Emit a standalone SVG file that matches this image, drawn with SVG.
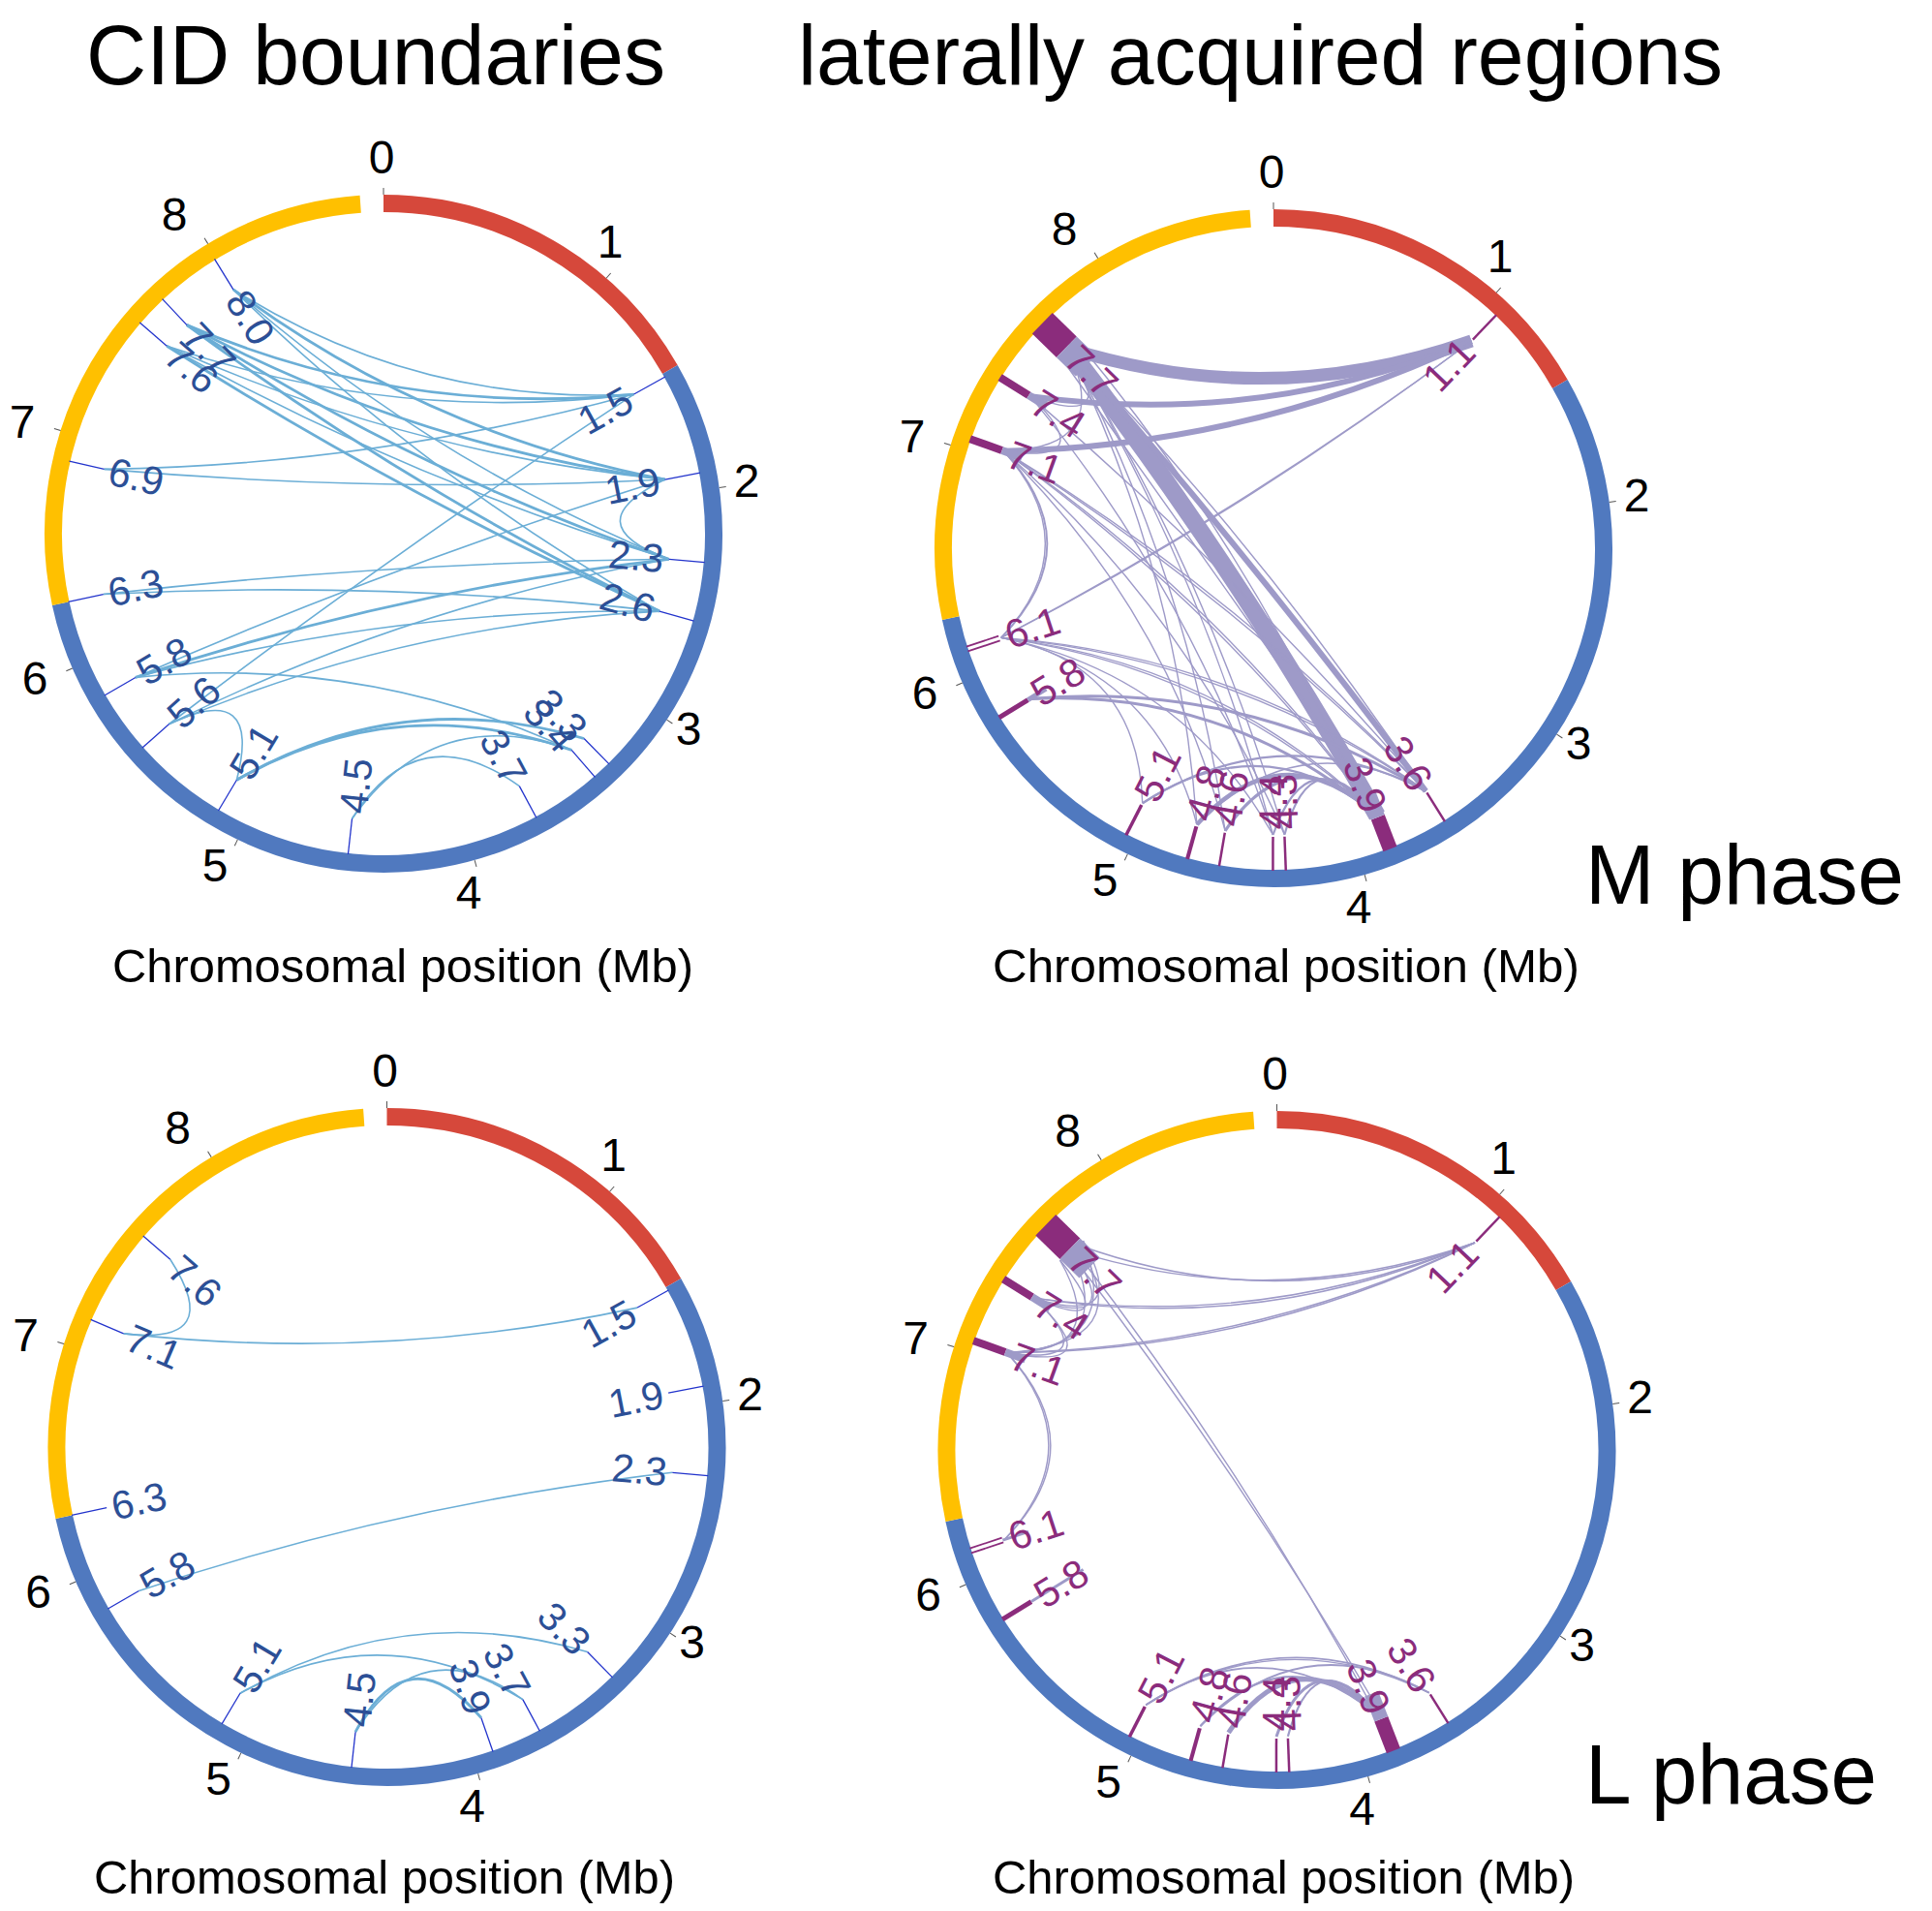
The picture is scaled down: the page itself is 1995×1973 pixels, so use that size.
<svg xmlns="http://www.w3.org/2000/svg" xmlns:xlink="http://www.w3.org/1999/xlink" width="1995" height="1973" viewBox="0 0 1995 1973">
<style>
text{font-family:"Liberation Sans",Arial,sans-serif}
.rr{fill:none;stroke:#d6483b;stroke-width:18}
.rb{fill:none;stroke:#5079bf;stroke-width:18}
.ry{fill:none;stroke:#ffc000;stroke-width:18}
.tk line{stroke:#555;stroke-width:1}
.num{font-size:48px;text-anchor:middle;fill:#000}
.cid{fill:none;stroke:#6baed6;stroke-width:1.6}
.cid .w2{stroke-width:2.8}
.lar{fill:none;stroke:#9e9ac8;stroke-width:1.4}
.cidr line{stroke:#2233cc;stroke-width:1.3}
.larr line{stroke:#8b2c7c}
.stub line{stroke:#9e9ac8}
.cl{fill:#2c4f96;font-size:41px;text-anchor:middle}
.ll{fill:#8b2c7c;font-size:41px;text-anchor:middle}
.ax{font-size:49px}
.big{font-size:87px}
</style>
<defs>
<g id="base">
<path class="rr" d="M0,-341A341,341 0 0 1 295.9,-169.5"/>
<path class="rb" d="M295.9,-169.5A341,341 0 1 1 -333.3,72.1"/>
<path class="ry" d="M-333.3,72.1A341,341 0 0 1 -23.8,-340.2"/>
<g class="tk">
<line y1="-350" y2="-357"/>
<line y1="-350" y2="-357" transform="rotate(41.1)"/>
<line y1="-350" y2="-357" transform="rotate(82.2)"/>
<line y1="-350" y2="-357" transform="rotate(123.3)"/>
<line y1="-350" y2="-357" transform="rotate(164.4)"/>
<line y1="-350" y2="-357" transform="rotate(205.5)"/>
<line y1="-350" y2="-357" transform="rotate(246.6)"/>
<line y1="-350" y2="-357" transform="rotate(287.7)"/>
<line y1="-350" y2="-357" transform="rotate(328.8)"/>
</g>
<g class="num">
<text x="-2" y="-389" dy=".36em">0</text>
<text x="234" y="-302" dy=".36em">1</text>
<text x="375" y="-55" dy=".36em">2</text>
<text x="315" y="201" dy=".36em">3</text>
<text x="88" y="370" dy=".36em">4</text>
<text x="-174" y="342" dy=".36em">5</text>
<text x="-360" y="149" dy=".36em">6</text>
<text x="-373" y="-116" dy=".36em">7</text>
<text x="-216" y="-330" dy=".36em">8</text>
</g>
</g>
</defs>
<rect width="1995" height="1973" fill="#fff"/>

<g id="titles">
<text class="big" x="89" y="87" textLength="598" lengthAdjust="spacingAndGlyphs">CID boundaries</text>
<text class="big" x="824" y="87" textLength="955" lengthAdjust="spacingAndGlyphs">laterally acquired regions</text>
<text class="big" x="1637" y="933" textLength="329" lengthAdjust="spacingAndGlyphs">M phase</text>
<text class="big" x="1637" y="1862" textLength="301" lengthAdjust="spacingAndGlyphs">L phase</text>
<text class="ax" x="116" y="1014" textLength="600" lengthAdjust="spacingAndGlyphs">Chromosomal position (Mb)</text>
<text class="ax" x="1025" y="1014" textLength="606" lengthAdjust="spacingAndGlyphs">Chromosomal position (Mb)</text>
<text class="ax" x="97" y="1955" textLength="600" lengthAdjust="spacingAndGlyphs">Chromosomal position (Mb)</text>
<text class="ax" x="1025" y="1955" textLength="601" lengthAdjust="spacingAndGlyphs">Chromosomal position (Mb)</text>
</g>

<!-- CID boundaries, M phase -->
<g id="cid-m" transform="translate(396,551)">
<use xlink:href="#base"/>
<g id="cid-m-links" class="cid">
<path d="M-155.1,-252.1Q34.7,-132.7 258.6,-143.9"/>
<path class="w2" d="M-155.1,-252.1Q45.4,-103.2 290.7,-56"/>
<path d="M-155.1,-252.1Q46.8,-75.6 294.8,26.3"/>
<path d="M-155.1,-252.1Q43.5,-57.6 285,80.1"/>
<path class="w2" d="M-203,-215.4Q18.6,-120.4 258.6,-143.9"/>
<path class="w2" d="M-203,-215.4Q29.4,-90.9 290.7,-56"/>
<path class="w2" d="M-203,-215.4Q30.8,-63.3 294.8,26.3"/>
<path class="w2" d="M-203,-215.4Q27.5,-45.3 285,80.1"/>
<path d="M-223.7,-193.8Q11.7,-113.1 258.6,-143.9"/>
<path d="M-223.7,-193.8Q22.4,-83.7 290.7,-56"/>
<path d="M-223.7,-193.8Q23.8,-56.1 294.8,26.3"/>
<path class="w2" d="M-223.7,-193.8Q20.5,-38.1 285,80.1"/>
<path d="M-288.4,-66.6Q-10,-70.5 258.6,-143.9"/>
<path d="M-288.4,-66.6Q0.8,-41.1 290.7,-56"/>
<path d="M-289.3,62.5Q1.8,29.7 294.8,26.3"/>
<path d="M-289.3,62.5Q-1.4,47.8 285,80.1"/>
<path class="w2" d="M-256.1,148.4Q13,58.5 294.8,26.3"/>
<path d="M-256.1,148.4Q11.6,31 290.7,-56"/>
<path d="M-256.1,148.4Q9.7,76.5 285,80.1"/>
<path d="M-256.1,148.4Q-20.7,124.6 194.2,223.4"/>
<path d="M-221.3,196.5Q12.5,17.6 258.6,-143.9"/>
<path d="M-221.3,196.5Q24.6,74.6 294.8,26.3"/>
<path d="M-221.3,196.5Q21.3,92.7 285,80.1"/>
<path d="M-221.3,196.5Q-124.9,151 -151.6,254.3"/>
<path class="w2" d="M-151.6,254.3Q18.6,156 207.1,211.5"/>
<path class="w2" d="M-151.6,254.3Q14.3,160 194.2,223.4"/>
<path d="M-32.5,294.2Q54.2,173.4 194.2,223.4"/>
<path d="M-32.5,294.2Q36.1,185.9 140.3,260.6"/>
<path d="M290.7,-56Q196.1,-9.9 294.8,26.3"/>
</g>
<g class="cidr">
<line y1="-333" y2="-296" transform="rotate(60.9)"/>
<line y1="-333" y2="-296" transform="rotate(79.1)"/>
<line y1="-333" y2="-296" transform="rotate(95.1)"/>
<line y1="-333" y2="-296" transform="rotate(105.7)"/>
<line y1="-333" y2="-296" transform="rotate(135.6)"/>
<line y1="-333" y2="-296" transform="rotate(139)"/>
<line y1="-333" y2="-296" transform="rotate(151.7)"/>
<line y1="-333" y2="-296" transform="rotate(186.3)"/>
<line y1="-333" y2="-296" transform="rotate(210.8)"/>
<line y1="-333" y2="-296" transform="rotate(228.4)"/>
<line y1="-333" y2="-296" transform="rotate(239.9)"/>
<line y1="-333" y2="-296" transform="rotate(257.8)"/>
<line y1="-333" y2="-296" transform="rotate(283)"/>
<line y1="-333" y2="-296" transform="rotate(310.9)"/>
<line y1="-333" y2="-296" transform="rotate(316.7)"/>
<line y1="-333" y2="-296" transform="rotate(328.4)"/>
</g>
<g class="cl">
<text dy=".35em" transform="rotate(60.9) translate(0,-262) rotate(-90)">1.5</text>
<text dy=".35em" transform="rotate(79.1) translate(0,-262) rotate(-90)">1.9</text>
<text dy=".35em" transform="rotate(95.1) translate(0,-262) rotate(-90)">2.3</text>
<text dy=".35em" transform="rotate(105.7) translate(0,-262) rotate(-90)">2.6</text>
<text dy=".35em" transform="rotate(135.6) translate(0,-262) rotate(-90)">3.3</text>
<text dy=".35em" transform="rotate(139) translate(0,-262) rotate(-90)">3.4</text>
<text dy=".35em" transform="rotate(151.7) translate(0,-262) rotate(-90)">3.7</text>
<text dy=".35em" transform="rotate(186.3) translate(0,-262) rotate(90)">4.5</text>
<text dy=".35em" transform="rotate(210.8) translate(0,-262) rotate(90)">5.1</text>
<text dy=".35em" transform="rotate(228.4) translate(0,-262) rotate(90)">5.6</text>
<text dy=".35em" transform="rotate(239.9) translate(0,-262) rotate(90)">5.8</text>
<text dy=".35em" transform="rotate(257.8) translate(0,-262) rotate(90)">6.3</text>
<text dy=".35em" transform="rotate(283) translate(0,-262) rotate(90)">6.9</text>
<text dy=".35em" transform="rotate(310.9) translate(0,-262) rotate(90)">7.6</text>
<text dy=".35em" transform="rotate(316.7) translate(0,-262) rotate(90)">7.7</text>
<text dy=".35em" transform="rotate(328.4) translate(0,-262) rotate(90)">8.0</text>
</g>
</g>

<!-- LAR, M phase -->
<g id="lar-m" transform="translate(1315,566)">
<use xlink:href="#base"/>
<g id="lar-m-links" class="lar">
<path stroke-width="13" d="M-212.2,-206.4Q-2.6,-140.8 204.5,-214"/>
<path stroke-width="6" d="M-251,-156.9Q-15.6,-124.3 204.5,-214"/>
<path stroke-width="6" d="M-278.5,-100.3Q-24.8,-105.3 204.5,-214"/>
<path d="M-281.2,92.4Q-22.7,-43.7 204.5,-214"/>
<path d="M-281.2,92.4Q-28.7,-37.7 204.5,-214"/>
<path stroke-width="18" d="M-212.2,-206.4Q-35.2,23.3 107,276"/>
<path d="M-203,-214Q-18,8 100,279"/>
<path d="M-221,-199Q-52,37 113,273"/>
<path stroke-width="6" d="M-212.2,-206.4Q-18.4,14.8 157.3,250.7"/>
<path d="M-212.2,-206.4Q-8,3 157.3,250.7"/>
<path d="M-212.2,-206.4Q-71.3,30 -0.5,296"/>
<path d="M-212.2,-206.4Q-67.3,29.9 11.4,295.8"/>
<path d="M-212.2,-206.4Q-87.8,28.6 -49.9,291.8"/>
<path d="M-212.2,-206.4Q-97.6,26.4 -79.1,285.2"/>
<path d="M-212.2,-206.4Q-155.2,-121.7 -251,-156.9"/>
<path d="M-212.2,-206.4Q-164.4,-102.7 -278.5,-100.3"/>
<path d="M-251,-156.9Q-177.4,-86.2 -278.5,-100.3"/>
<path stroke-width="1.8" d="M-278.5,-100.3Q-187.5,-2.6 -281.2,92.4"/>
<path d="M-278.5,-100.3Q-191.5,-2.6 -281.2,92.4"/>
<path d="M-278.5,-100.3Q-57.5,58.9 107,276"/>
<path d="M-278.5,-100.3Q-53.5,54.9 107,276"/>
<path d="M-278.5,-100.3Q-40.6,50.4 157.3,250.7"/>
<path d="M-278.5,-100.3Q-36.6,46.4 157.3,250.7"/>
<path d="M-251,-156.9Q-31.4,31.4 157.3,250.7"/>
<path d="M-251,-156.9Q-84.3,46.6 -0.5,296"/>
<path d="M-278.5,-100.3Q-89.5,65.5 11.4,295.8"/>
<path d="M-278.5,-100.3Q-110,64.2 -49.9,291.8"/>
<path d="M-281.2,92.4Q-58.4,123.4 107,276"/>
<path d="M-281.2,92.4Q-54.4,119.4 107,276"/>
<path d="M-281.2,92.4Q-41.5,114.9 157.3,250.7"/>
<path d="M-281.2,92.4Q-37.5,110.9 157.3,250.7"/>
<path d="M-281.2,92.4Q-139.5,119.2 -135.3,263.3"/>
<path d="M-281.2,92.4Q-94.4,130.1 -0.5,296"/>
<path d="M-281.2,92.4Q-120.7,126.5 -79.1,285.2"/>
<path stroke-width="3" d="M-251.8,155.5Q-48.5,144.6 107,276"/>
<path stroke-width="3" d="M-251.8,155.5Q-31.7,136.1 157.3,250.7"/>
<path stroke-width="2.2" d="M-135.3,263.3Q-9.5,180.7 107,276"/>
<path stroke-width="2.2" d="M-135.3,263.3Q7.4,172.2 157.3,250.7"/>
<path stroke-width="4.5" d="M-79.1,285.2Q9.3,188 107,276"/>
<path stroke-width="3.2" d="M-49.9,291.8Q19.1,190.2 107,276"/>
<path stroke-width="2.2" d="M-0.5,296Q35.7,191.6 107,276"/>
<path stroke-width="2.2" d="M11.4,295.8Q39.7,191.6 107,276"/>
<path stroke-width="1.6" d="M-79.1,285.2Q26.2,179.5 157.3,250.7"/>
</g>
<g class="larr">
<line y1="-333" y2="-298" stroke-width="2.5" transform="rotate(43.7)"/>
<line y1="-333" y2="-298" stroke-width="30" transform="rotate(314.2)"/>
<line y1="-333" y2="-298" stroke-width="8" transform="rotate(302)"/>
<line y1="-333" y2="-298" stroke-width="8" transform="rotate(289.8)"/>
<line x1="-2.5" x2="-2.5" y1="-333" y2="-298" stroke-width="1.8" transform="rotate(251.8)"/>
<line x1="2.5" x2="2.5" y1="-333" y2="-298" stroke-width="1.8" transform="rotate(251.8)"/>
<line y1="-333" y2="-298" stroke-width="5" transform="rotate(238.3)"/>
<line y1="-333" y2="-298" stroke-width="3.5" transform="rotate(207.2)"/>
<line y1="-333" y2="-298" stroke-width="4" transform="rotate(195.5)"/>
<line y1="-333" y2="-298" stroke-width="2.5" transform="rotate(189.7)"/>
<line y1="-333" y2="-298" stroke-width="2.5" transform="rotate(180.1)"/>
<line y1="-333" y2="-298" stroke-width="2.5" transform="rotate(177.8)"/>
<line y1="-333" y2="-298" stroke-width="15" transform="rotate(158.8)"/>
<line y1="-333" y2="-298" stroke-width="2.5" transform="rotate(147.9)"/>
</g>
<g class="stub">
<line y1="-298" y2="-270" stroke-width="30" transform="rotate(314.2)"/>
<line y1="-298" y2="-276" stroke-width="8" transform="rotate(302)"/>
<line y1="-298" y2="-276" stroke-width="8" transform="rotate(289.8)"/>
<line y1="-298" y2="-276" stroke-width="5" transform="rotate(238.3)"/>
<line y1="-298" y2="-270" stroke-width="15" transform="rotate(158.8)"/>
</g>
<g class="ll">
<text dy=".35em" transform="rotate(43.7) translate(0,-262) rotate(-90)">1.1</text>
<text dy=".35em" transform="rotate(314.2) translate(0,-262) rotate(90)">7.7</text>
<text dy=".35em" transform="rotate(302) translate(0,-262) rotate(90)">7.4</text>
<text dy=".35em" transform="rotate(289.8) translate(0,-262) rotate(90)">7.1</text>
<text dy=".35em" transform="rotate(251.8) translate(0,-262) rotate(90)">6.1</text>
<text dy=".35em" transform="rotate(238.3) translate(0,-262) rotate(90)">5.8</text>
<text dy=".35em" transform="rotate(207.2) translate(0,-262) rotate(90)">5.1</text>
<text dy=".35em" transform="rotate(195.5) translate(0,-262) rotate(90)">4.8</text>
<text dy=".35em" transform="rotate(189.7) translate(0,-262) rotate(90)">4.6</text>
<text dy=".35em" transform="rotate(180.1) translate(0,-262) rotate(90)">4.4</text>
<text dy=".35em" transform="rotate(177.8) translate(0,-262) rotate(90)">4.3</text>
<text dy=".35em" transform="rotate(158.8) translate(0,-262) rotate(-90)">3.9</text>
<text dy=".35em" transform="rotate(147.9) translate(0,-262) rotate(-90)">3.6</text>
</g>
</g>

<!-- CID boundaries, L phase -->
<g id="cid-l" transform="translate(399.5,1494)">
<use xlink:href="#base"/>
<g id="cid-l-links" class="cid">
<path d="M-223.7,-193.8Q-166,-104.2 -271.8,-117.1"/>
<path d="M-271.8,-117.1Q-4.4,-87.4 258.6,-143.9"/>
<path d="M-256.1,148.4Q13,58.5 294.8,26.3"/>
<path d="M-151.6,254.3Q18.6,156 207.1,211.5"/>
<path d="M-151.6,254.3Q-3.8,172.5 140.3,260.6"/>
<path class="w2" d="M-32.5,294.2Q21.7,192.2 97.4,279.5"/>
<path d="M-32.5,294.2Q36.1,185.9 140.3,260.6"/>
</g>
<g class="cidr">
<line y1="-333" y2="-296" transform="rotate(60.9)"/>
<line y1="-333" y2="-296" transform="rotate(79.1)"/>
<line y1="-333" y2="-296" transform="rotate(95.1)"/>
<line y1="-333" y2="-296" transform="rotate(135.6)"/>
<line y1="-333" y2="-296" transform="rotate(151.7)"/>
<line y1="-333" y2="-296" transform="rotate(160.8)"/>
<line y1="-333" y2="-296" transform="rotate(186.3)"/>
<line y1="-333" y2="-296" transform="rotate(210.8)"/>
<line y1="-333" y2="-296" transform="rotate(239.9)"/>
<line y1="-333" y2="-296" transform="rotate(257.8)"/>
<line y1="-333" y2="-296" transform="rotate(293.3)"/>
<line y1="-333" y2="-296" transform="rotate(310.9)"/>
</g>
<g class="cl">
<text dy=".35em" transform="rotate(60.9) translate(0,-262) rotate(-90)">1.5</text>
<text dy=".35em" transform="rotate(79.1) translate(0,-262) rotate(-90)">1.9</text>
<text dy=".35em" transform="rotate(95.1) translate(0,-262) rotate(-90)">2.3</text>
<text dy=".35em" transform="rotate(135.6) translate(0,-262) rotate(-90)">3.3</text>
<text dy=".35em" transform="rotate(151.7) translate(0,-262) rotate(-90)">3.7</text>
<text dy=".35em" transform="rotate(160.8) translate(0,-262) rotate(-90)">3.9</text>
<text dy=".35em" transform="rotate(186.3) translate(0,-262) rotate(90)">4.5</text>
<text dy=".35em" transform="rotate(210.8) translate(0,-262) rotate(90)">5.1</text>
<text dy=".35em" transform="rotate(239.9) translate(0,-262) rotate(90)">5.8</text>
<text dy=".35em" transform="rotate(257.8) translate(0,-262) rotate(90)">6.3</text>
<text dy=".35em" transform="rotate(293.3) translate(0,-262) rotate(90)">7.1</text>
<text dy=".35em" transform="rotate(310.9) translate(0,-262) rotate(90)">7.6</text>
</g>
</g>

<!-- LAR, L phase -->
<g id="lar-l" transform="translate(1318.5,1497)">
<use xlink:href="#base"/>
<g id="lar-l-links" class="lar">
<path d="M-212.2,-206.4Q-2.6,-140.8 204.5,-214"/>
<path d="M-206,-212Q2,-136 204.5,-214"/>
<path d="M-251,-156.9Q-15.6,-124.3 204.5,-214"/>
<path d="M-251,-156.9Q-15.6,-119.3 204.5,-214"/>
<path d="M-278.5,-100.3Q-24.8,-105.3 204.5,-214"/>
<path d="M-278.5,-100.3Q-24.8,-101.3 204.5,-214"/>
<path d="M-210,-208Q-33,21 105,277"/>
<path d="M-214,-204Q-37,25 109,275"/>
<path d="M-212.2,-206.4Q-155.2,-121.7 -251,-156.9"/>
<path d="M-200,-216Q-150,-125 -251,-156.9"/>
<path d="M-224,-196Q-160,-118 -251,-156.9"/>
<path d="M-212.2,-206.4Q-164.4,-102.7 -278.5,-100.3"/>
<path d="M-200,-216Q-158,-105 -278.5,-100.3"/>
<path d="M-224,-196Q-170,-100 -278.5,-100.3"/>
<path d="M-205,-212Q-140,-110 -278.5,-100.3"/>
<path d="M-251,-156.9Q-177.4,-86.2 -278.5,-100.3"/>
<path d="M-251,-156.9Q-170,-80 -278.5,-100.3"/>
<path d="M-278.5,-100.3Q-187.5,-2.6 -281.2,92.4"/>
<path d="M-278.5,-100.3Q-191.5,-2.6 -281.2,92.4"/>
<path stroke-width="1.8" d="M-135.3,263.3Q7.4,172.2 157.3,250.7"/>
<path d="M-135.3,263.3Q3.4,176.2 157.3,250.7"/>
<path stroke-width="1.8" d="M-135.3,263.3Q-9.5,180.7 107,276"/>
<path stroke-width="2.2" d="M-79.1,285.2Q9.3,188 107,276"/>
<path stroke-width="1.8" d="M-79.1,285.2Q26.2,179.5 157.3,250.7"/>
<path stroke-width="5" d="M-49.9,291.8Q19.1,190.2 107,276"/>
<path stroke-width="3" d="M-0.5,296Q35.7,191.6 107,276"/>
<path stroke-width="2.2" d="M11.4,295.8Q39.7,191.6 107,276"/>
</g>
<g class="larr">
<line y1="-333" y2="-298" stroke-width="2.5" transform="rotate(43.7)"/>
<line y1="-333" y2="-298" stroke-width="30" transform="rotate(314.2)"/>
<line y1="-333" y2="-298" stroke-width="8" transform="rotate(302)"/>
<line y1="-333" y2="-298" stroke-width="8" transform="rotate(289.8)"/>
<line x1="-2.5" x2="-2.5" y1="-333" y2="-298" stroke-width="1.8" transform="rotate(251.8)"/>
<line x1="2.5" x2="2.5" y1="-333" y2="-298" stroke-width="1.8" transform="rotate(251.8)"/>
<line y1="-333" y2="-298" stroke-width="5" transform="rotate(238.3)"/>
<line y1="-333" y2="-298" stroke-width="3.5" transform="rotate(207.2)"/>
<line y1="-333" y2="-298" stroke-width="4" transform="rotate(195.5)"/>
<line y1="-333" y2="-298" stroke-width="2.5" transform="rotate(189.7)"/>
<line y1="-333" y2="-298" stroke-width="2.5" transform="rotate(180.1)"/>
<line y1="-333" y2="-298" stroke-width="2.5" transform="rotate(177.8)"/>
<line y1="-333" y2="-298" stroke-width="15" transform="rotate(158.8)"/>
<line y1="-333" y2="-298" stroke-width="2.5" transform="rotate(147.9)"/>
</g>
<g class="stub">
<line y1="-298" y2="-270" stroke-width="30" transform="rotate(314.2)"/>
<line y1="-298" y2="-276" stroke-width="8" transform="rotate(302)"/>
<line y1="-298" y2="-276" stroke-width="8" transform="rotate(289.8)"/>
<line y1="-298" y2="-270" stroke-width="3" transform="rotate(251.8)"/>
<line y1="-298" y2="-235" stroke-width="3" transform="rotate(238.3)"/>
<line y1="-298" y2="-270" stroke-width="15" transform="rotate(158.8)"/>
</g>
<g class="ll">
<text dy=".35em" transform="rotate(43.7) translate(0,-262) rotate(-90)">1.1</text>
<text dy=".35em" transform="rotate(314.2) translate(0,-262) rotate(90)">7.7</text>
<text dy=".35em" transform="rotate(302) translate(0,-262) rotate(90)">7.4</text>
<text dy=".35em" transform="rotate(289.8) translate(0,-262) rotate(90)">7.1</text>
<text dy=".35em" transform="rotate(251.8) translate(0,-262) rotate(90)">6.1</text>
<text dy=".35em" transform="rotate(238.3) translate(0,-262) rotate(90)">5.8</text>
<text dy=".35em" transform="rotate(207.2) translate(0,-262) rotate(90)">5.1</text>
<text dy=".35em" transform="rotate(195.5) translate(0,-262) rotate(90)">4.8</text>
<text dy=".35em" transform="rotate(189.7) translate(0,-262) rotate(90)">4.6</text>
<text dy=".35em" transform="rotate(180.1) translate(0,-262) rotate(90)">4.4</text>
<text dy=".35em" transform="rotate(177.8) translate(0,-262) rotate(90)">4.3</text>
<text dy=".35em" transform="rotate(158.8) translate(0,-262) rotate(-90)">3.9</text>
<text dy=".35em" transform="rotate(147.9) translate(0,-262) rotate(-90)">3.6</text>
</g>
</g>
</svg>
